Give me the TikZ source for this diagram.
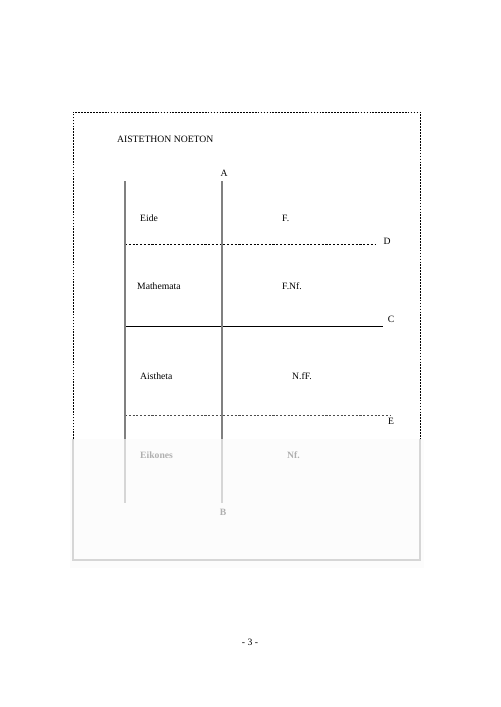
\documentclass[tikz,border=0pt]{standalone}
\usepackage{fontspec}
\setmainfont{Liberation Serif}
\usetikzlibrary{calc}

\begin{document}
\begin{tikzpicture}[x=1.19pt, y=-1.19pt,
    lbl/.style={font=\fontsize{11.5}{13}\selectfont, inner sep=0pt},
    pole/.style={draw=black!50, line width=1.3pt},
    cut/.style={line width=0.5pt, dash pattern=on 2.5pt off 2pt},
    frame/.style={line width=0.5pt, dash pattern=on 2pt off 1.5pt},
    hazy/.style={opacity=0.3}
]
\useasboundingbox (0,0) rectangle (500,707);

%------------------------ parameters ------------------------
\def\xL{125}     % left pole
\def\xM{222}     % middle pole (A--B)
\def\yTop{181}
\def\yBot{503}
\def\yHaze{439}  % start of the hazy lower strip

\coordinate (Ltop) at (\xL,\yTop);
\coordinate (Lbot) at (\xL,\yBot);
\coordinate (Lcut) at (\xL,\yHaze);
\coordinate (Mtop) at (\xM,\yTop);
\coordinate (Mbot) at (\xM,\yBot);
\coordinate (Mcut) at (\xM,\yHaze);

%------------------------ frame ------------------------
\coordinate (FL) at (73,\yHaze);
\coordinate (FR) at (420,\yHaze);
\draw[frame] (FL) -- (73,112) -- (420,112) -- (FR);

%------------------------ title and labels ------------------------
\node[lbl, anchor=west] (title) at (117,139) {AISTETHON NOETON};
\node[lbl] (A) at (224,173) {A};

\node[lbl, anchor=west] (eide)  at (140,218) {Eide};
\node[lbl, anchor=west] (fF)    at (282,218) {F.};
\node[lbl, anchor=west] (math)  at (137,286) {Mathemata};
\node[lbl, anchor=west] (fNf)   at (282,286) {F.Nf.};
\node[lbl, anchor=west] (aist)  at (140,376) {Aistheta};
\node[lbl, anchor=west] (nfF)   at (292,376) {N.fF.};

\node[lbl] (D) at (387,241) {D};
\node[lbl] (C) at (391,319) {C};
\node[lbl] (E) at (391,421) {E};

%------------------------ dividing lines ------------------------
\coordinate (Dl) at (\xL,244);  \coordinate (Dr) at (375,244);
\coordinate (Cl) at (\xL,326);  \coordinate (Cr) at (383,326);
\coordinate (El) at (\xL,415);  \coordinate (Er) at (390,415);

\draw[cut] (Dl) -- (Dr);
\draw[line width=0.6pt] (Cl) -- (Cr);
\draw[cut, draw=black!70] (El) -- (Er);

\draw[pole] (Ltop) -- (Lcut);
\draw[pole] (Mtop) -- (Mcut);

%------------------------ hazy lower strip ------------------------
\fill[black!1] (70,\yHaze) rectangle (424,568);
\begin{scope}[hazy]
  \draw[pole, line width=2pt] (Lcut) -- (Lbot);
  \draw[pole, line width=2pt] (Mcut) -- (Mbot);
  \draw[line width=1.5pt, draw=black!50] (FL) -- (73,560) -- (420,560) -- (FR);
  \node[lbl, anchor=west, font=\bfseries\fontsize{11.5}{13}\selectfont] (eik) at (140,455) {Eikones};
  \node[lbl, anchor=west, font=\bfseries\fontsize{11.5}{13}\selectfont] (nf)  at (287,455) {Nf.};
  \node[lbl, font=\bfseries\fontsize{11.5}{13}\selectfont] (B) at (223,512) {B};
\end{scope}

%------------------------ page number ------------------------
\node[lbl] (page) at (250,642) {- 3 -};

\end{tikzpicture}
\end{document}
